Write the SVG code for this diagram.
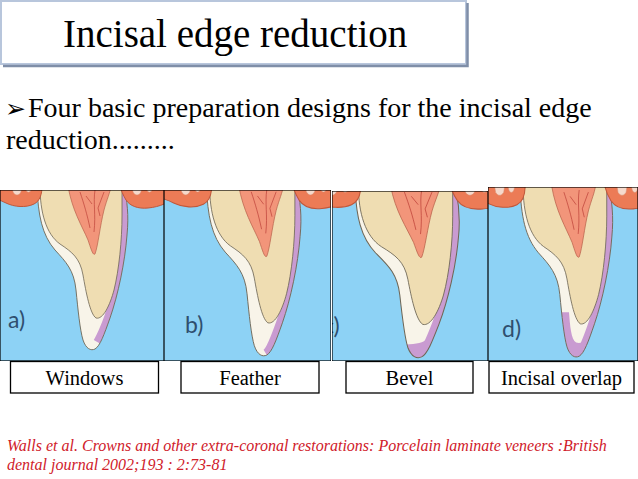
<svg xmlns="http://www.w3.org/2000/svg" width="638" height="479" viewBox="0 0 638 479">
<style>
.serif{font-family:"Liberation Serif","Times New Roman",serif;fill:#000}
.title{font-size:39px}
.body{font-size:28px}
.lbl{font-size:20.5px;text-anchor:middle}
.ref{font-family:"Liberation Serif","Times New Roman",serif;font-style:italic;font-size:16px;fill:#d0202a}
.plbl{font-family:Lato,"Open Sans",sans-serif;font-size:23px;fill:#2f4f6f}
.bg{fill:#8dd2f5}
.frame{fill:none;stroke:#000;stroke-width:1.2}
.box{fill:#fff;stroke:#000;stroke-width:1.3}
.enamel{fill:#f8f4e9}
.outline{fill:none;stroke:#6d6656;stroke-width:0.9}
.dentin{fill:#efddb2;stroke:#6d6656;stroke-width:0.8}
.pulp{fill:#f2957a;stroke:#b9604a;stroke-width:0.7}
.vein{fill:none;stroke:#b5342e;stroke-width:0.6}
.ven{fill:none;stroke:#c99bd1;stroke-width:12}
.venf{fill:#c99bd1}
.gum{fill:#ec7b56;stroke:#c0573a;stroke-width:1}
.pale{fill:#f6d9cb;stroke:#d98a6c;stroke-width:0.5}
</style>
<defs>
<path id="outer" d="M37,186 C38,215 42,235 55,250 C66,262 74,270 76,290 C78,310 80,330 83,340 C86,349 91,351 95,349 C100,346 104,335 110,318 C118,295 125,262 127,235 C129,215 127,200 124,186 Z"/>
<clipPath id="clipOuter"><use href="#outer"/></clipPath>
<path id="dentin" d="M40,186 C40,212 46,234 60,244 C72,252 80,258 83,275 C86,292 90,314 96,318 C103,320 110,305 114,290 C119,270 122,240 122,215 L122,186 Z"/>
<path id="pulp" d="M68,186 C72,210 82,226 88,240 C91,249 93,256 95,254 C98,246 100,226 104,210 C107,199 110,193 111,186 Z"/>
<g id="veins">
<path d="M80,192 C84,204 87,214 90,228"/>
<path d="M95,190 C93,203 96,214 94,232"/>
<path d="M104,192 L98,208 L100,216"/>
<path d="M86,196 L92,204"/>
</g>
<path id="labialFull" d="M124,186 C127,200 129,215 127,235 C125,262 118,295 110,318 C104,335 100,346 95,349"/>
<path id="labialWin" d="M124,186 C127,200 129,215 127,235 C125,262 118,295 110,318 C106,329 103,336 99,343"/>
<g id="gums">
<path class="gum" d="M-12,186 L42,186 C42,194 40,201 34,204 C26,208 14,207 6,203 C0,200 -6,198 -12,197 Z"/>
<path class="pale" d="M12,186 L13,192 C15,196 19,196 21,192 L22,186 Z"/>
<path class="pale" d="M25,186 L26,190 C27,193 30,193 31,190 L32,186 Z"/>
<path class="gum" d="M120,186 L178,186 L178,196 C170,202 160,207 148,208 C138,209 130,206 126,200 C123,195 121,190 120,186 Z"/>
<path class="pale" d="M132,186 L133,192 C135,196 139,196 141,192 L142,186 Z"/>
<path class="pale" d="M146,186 L147,190 C148,193 151,193 152,190 L153,186 Z"/>
</g>
<clipPath id="cpA"><rect x="0" y="190" width="164" height="171"/></clipPath>
<clipPath id="cpB"><rect x="164" y="190" width="167" height="171"/></clipPath>
<clipPath id="cpC"><rect x="332" y="191" width="156" height="170"/></clipPath>
<clipPath id="cpD"><rect x="488" y="187" width="150" height="174"/></clipPath>
</defs>

<g id="title">
<rect x="1" y="1" width="465" height="63" fill="#fff" stroke="#b8c6dc" stroke-width="2"/>
<path d="M467.5,3 V66 H3" fill="none" stroke="#7f8ea8" stroke-width="2.5"/>
<text class="serif title" x="63" y="47">Incisal edge reduction</text>
</g>

<g id="bullet">
<text class="serif body" y="117"><tspan x="5" font-family="'DejaVu Sans',sans-serif" font-size="25">➢</tspan><tspan x="28">Four basic preparation designs for the incisal edge</tspan></text>
<text class="serif body" x="6" y="149">reduction.........</text>
</g>

<g id="panel-a" clip-path="url(#cpA)">
<rect class="bg" x="0" y="190" width="164" height="171"/>
<g>
<use href="#outer" class="enamel"/>
<g clip-path="url(#clipOuter)"><use href="#labialWin" class="ven"/></g>
<use href="#outer" class="outline"/>
<use href="#dentin" class="dentin"/>
<use href="#pulp" class="pulp"/>
<use href="#veins" class="vein"/>
<use href="#gums"/>
</g>
<text class="plbl" x="8" y="328">a)</text>
<rect class="frame" x="0" y="190" width="164" height="171"/>
</g>

<g id="panel-b" clip-path="url(#cpB)">
<rect class="bg" x="164" y="190" width="167" height="171"/>
<g transform="translate(168,-7.9) scale(1.04)">
<use href="#outer" class="enamel"/>
<g clip-path="url(#clipOuter)"><use href="#labialFull" class="ven"/></g>
<use href="#outer" class="outline"/>
<use href="#dentin" class="dentin"/>
<use href="#pulp" class="pulp"/>
<use href="#veins" class="vein"/>
<use href="#gums"/>
</g>
<text class="plbl" x="185" y="333">b)</text>
<rect class="frame" x="164" y="190" width="167" height="171"/>
</g>

<g id="panel-c" clip-path="url(#cpC)">
<rect class="bg" x="332" y="191" width="156" height="170"/>
<g transform="translate(312.4,-9.5) scale(1.15,1.05)">
<use href="#outer" class="enamel"/>
<g clip-path="url(#clipOuter)">
<use href="#labialFull" class="ven"/>
<path class="venf" d="M60,337 C75,337 90,338 97,334 C103,330 107,322 110,314 L140,290 L140,370 L60,370 Z"/>
</g>
<use href="#outer" class="outline"/>
<use href="#dentin" class="dentin"/>
<use href="#pulp" class="pulp"/>
<use href="#veins" class="vein"/>
<use href="#gums"/>
</g>
<text class="plbl" x="323" y="334">c)</text>
<rect class="frame" x="332" y="191" width="156" height="170"/>
</g>

<g id="panel-d" clip-path="url(#cpD)">
<rect class="bg" x="488" y="187" width="150" height="174"/>
<g transform="translate(482.3,-8.5) scale(1.02,1.045)">
<use href="#outer" class="enamel"/>
<g clip-path="url(#clipOuter)">
<use href="#labialFull" class="ven"/>
<path class="venf" d="M40,307 L85,307 C86,320 87,333 92,336 C98,338 104,333 108,322 L140,290 L140,370 L40,370 Z"/>
</g>
<use href="#outer" class="outline"/>
<use href="#dentin" class="dentin"/>
<use href="#pulp" class="pulp"/>
<use href="#veins" class="vein"/>
<use href="#gums"/>
</g>
<text class="plbl" x="502" y="337">d)</text>
<rect class="frame" x="488" y="187" width="150" height="174"/>
</g>

<g id="label-windows">
<rect class="box" x="10.5" y="361.5" width="148" height="31.5"/>
<text class="serif lbl" x="84.5" y="385">Windows</text>
</g>
<g id="label-feather">
<rect class="box" x="181" y="361.5" width="138" height="31.5"/>
<text class="serif lbl" x="250" y="385">Feather</text>
</g>
<g id="label-bevel">
<rect class="box" x="346" y="361.5" width="127" height="31.5"/>
<text class="serif lbl" x="409.5" y="385">Bevel</text>
</g>
<g id="label-overlap">
<rect class="box" x="489" y="361.5" width="145" height="31.5"/>
<text class="serif lbl" x="561.5" y="385">Incisal overlap</text>
</g>

<g id="reference">
<text class="ref" x="7" y="451">Walls et al. Crowns and other extra-coronal restorations: Porcelain laminate veneers :British</text>
<text class="ref" x="7" y="470">dental journal 2002;193 : 2:73-81</text>
</g>
</svg>
